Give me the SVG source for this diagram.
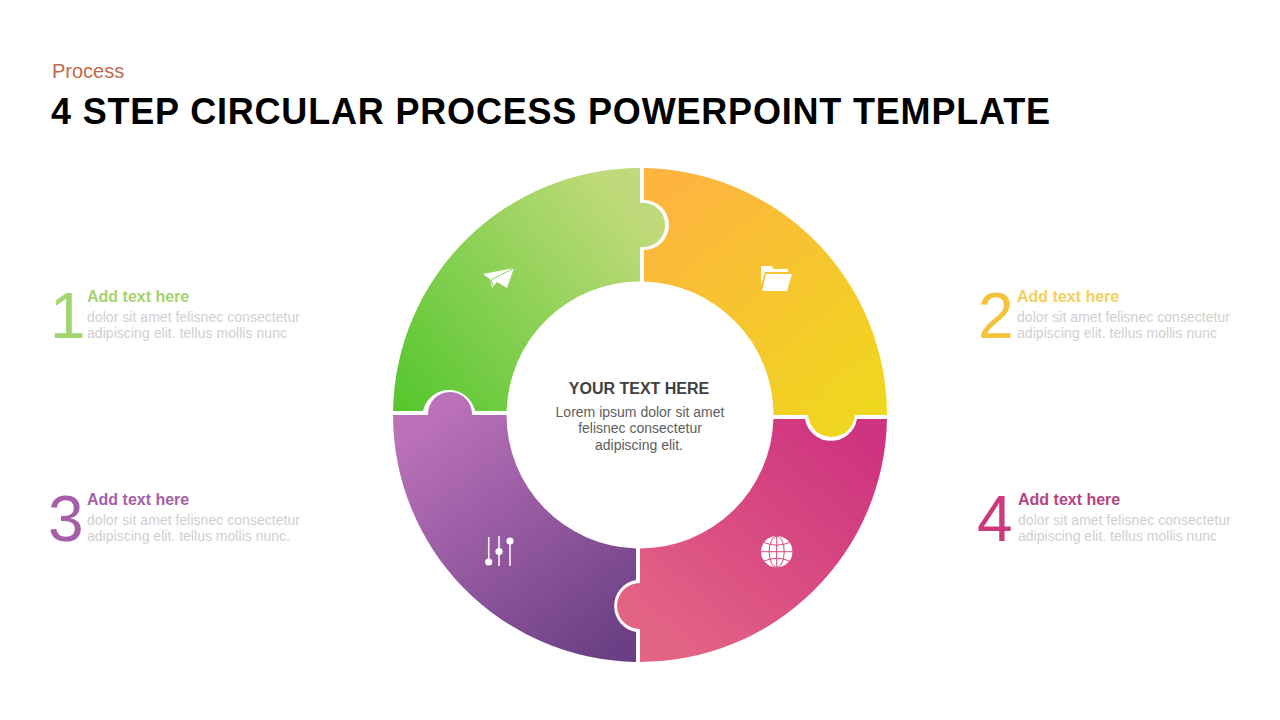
<svg xmlns="http://www.w3.org/2000/svg" width="1280" height="720" viewBox="0 0 1280 720">
<style>
text{font-family:"Liberation Sans",Arial,sans-serif}
.head{font-size:16px;font-weight:700}
.body{font-size:14px;fill:#cfcfcf}
.num{font-size:64px}
.mid{font-size:14px;fill:#5e5e5e;text-anchor:middle}
.ic{fill:#fff}
.il{stroke:#fff;stroke-width:1.5;fill:none}
</style>
<defs>
<linearGradient id="gGreen" gradientUnits="userSpaceOnUse" x1="630" y1="210" x2="400" y2="400"><stop offset="0" stop-color="#bfda7a"/><stop offset="1" stop-color="#57c72f"/></linearGradient>
<linearGradient id="gOrange" gradientUnits="userSpaceOnUse" x1="680" y1="190" x2="860" y2="420"><stop offset="0" stop-color="#fdb53e"/><stop offset="1" stop-color="#efd71e"/></linearGradient>
<linearGradient id="gPurple" gradientUnits="userSpaceOnUse" x1="420" y1="420" x2="600" y2="660"><stop offset="0" stop-color="#bc72ba"/><stop offset="1" stop-color="#6b3f85"/></linearGradient>
<linearGradient id="gPink" gradientUnits="userSpaceOnUse" x1="860" y1="440" x2="680" y2="650"><stop offset="0" stop-color="#ce337f"/><stop offset="1" stop-color="#e36385"/></linearGradient>
</defs>
<rect width="1280" height="720" fill="#fff"/>
<text x="52" y="78" font-size="20" fill="#c2694c">Process</text>
<text x="51" y="124" font-size="36" font-weight="700" fill="#000" textLength="999">4 STEP CIRCULAR PROCESS POWERPOINT TEMPLATE</text>

<g id="step-1">
<path fill="url(#gGreen)" d="M393.03,411A247,247 0 0 1 640,168V203A22.2,22.2 0 1 1 640,247V281.5A133.5,133.5 0 0 0 506.56,411H475A26.6,26.6 0 0 0 423,411Z"/>
<g id="icon-plane"><path class="ic" d="M483,274L514,268L507,288L497,282L492,288L490,279Z"/><path d="M514,268L491,280L493,286" fill="none" stroke="#8fd060" stroke-width="1"/></g>
<text class="num" x="50" y="338" fill="#a3d46f">1</text>
<text class="head" x="87" y="302" fill="#a3d46f">Add text here</text>
<text class="body" x="87" y="322" textLength="213">dolor sit amet felisnec consectetur</text>
<text class="body" x="87" y="338" textLength="200">adipiscing elit. tellus mollis nunc</text>
</g>

<g id="step-2">
<path fill="url(#gOrange)" d="M644,168.03A247,247 0 0 1 887,415H855A23.55,23.55 0 0 1 808,415H773.5A133.5,133.5 0 0 0 644,281.56V250A25,25 0 0 0 644,200Z"/>
<g id="icon-folder"><path class="ic" d="M761,266H771L774,269H788V272H765L761,285Z"/><path class="ic" d="M766,274H792L787,291H762Z"/></g>
<text class="num" x="978" y="338" fill="#f5c33b">2</text>
<text class="head" x="1017" y="302" fill="#f3cf5e">Add text here</text>
<text class="body" x="1017" y="322" textLength="213">dolor sit amet felisnec consectetur</text>
<text class="body" x="1017" y="338" textLength="200">adipiscing elit. tellus mollis nunc</text>
</g>

<g id="step-3">
<path fill="url(#gPurple)" d="M428,415A22.02,22.02 0 1 1 472,415H506.5A133.5,133.5 0 0 0 636,548.44V580A26.4,26.4 0 0 0 636,632V662A247,247 0 0 1 393,415Z"/>
<g id="icon-sliders"><path class="il" d="M488.7,537V562M499,536V566M510,541V566"/><circle class="ic" cx="488.7" cy="562" r="3.6"/><circle class="ic" cx="499" cy="551.5" r="3.6"/><circle class="ic" cx="510" cy="541" r="3.6"/></g>
<text class="num" x="48" y="541" fill="#a45fa8">3</text>
<text class="head" x="87" y="505" fill="#a45fa8">Add text here</text>
<text class="body" x="87" y="525" textLength="213">dolor sit amet felisnec consectetur</text>
<text class="body" x="87" y="541" textLength="203">adipiscing elit. tellus mollis nunc.</text>
</g>

<g id="step-4">
<path fill="url(#gPink)" d="M887,419A247,247 0 0 1 640,662V629A23,23 0 0 1 640,583V548.5A133.5,133.5 0 0 0 773.44,419H805A26.4,26.4 0 0 0 857,419Z"/>
<g id="icon-globe"><circle class="ic" cx="776.7" cy="551.7" r="15.7"/><g fill="none" stroke="#d9497f" stroke-width="1"><ellipse cx="776.7" cy="551.7" rx="7.5" ry="15.7"/><path d="M776.7,536V567.4M761,551.7H792.4M764,542.5Q776.7,548 789.4,542.5M764,561Q776.7,555.5 789.4,561"/></g></g>
<text class="num" x="977" y="541" fill="#cc3a7e">4</text>
<text class="head" x="1018" y="505" fill="#b8437f">Add text here</text>
<text class="body" x="1018" y="525" textLength="213">dolor sit amet felisnec consectetur</text>
<text class="body" x="1018" y="541" textLength="199">adipiscing elit. tellus mollis nunc</text>
</g>

<g id="center">
<text x="639" y="394" font-size="16" font-weight="700" fill="#404040" text-anchor="middle">YOUR TEXT HERE</text>
<text class="mid" x="640" y="417">Lorem ipsum dolor sit amet</text>
<text class="mid" x="640" y="433">felisnec consectetur</text>
<text class="mid" x="639" y="450">adipiscing elit.</text>
</g>
</svg>
